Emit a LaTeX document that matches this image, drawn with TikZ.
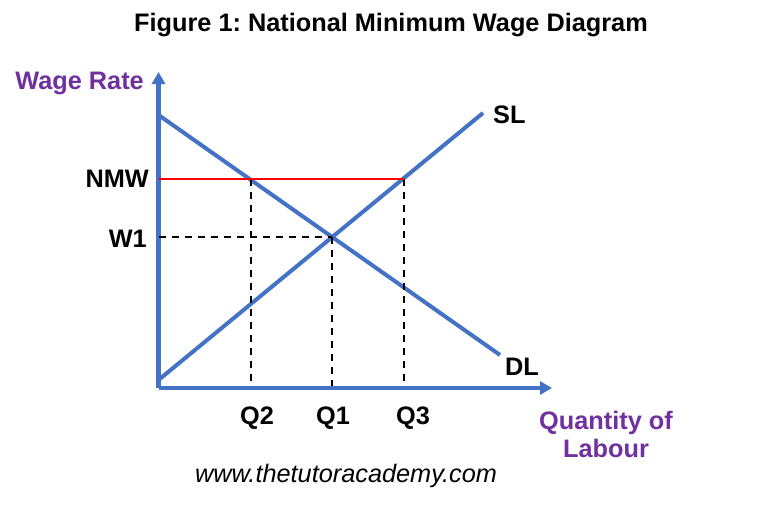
\documentclass[tikz,border=0pt]{standalone}
\usepackage{fontspec}
\setmainfont{Liberation Sans}
\usetikzlibrary{arrows.meta, positioning}
\definecolor{curveblue}{RGB}{68,114,196}
\definecolor{labelpurple}{RGB}{112,48,160}
\tikzset{
    curve/.style = {draw = curveblue, line width = 4pt},
    axis/.style = {draw = curveblue, line width = 4.5pt, -{Triangle[width=13pt, length=12pt]}},
    guide/.style = {draw = black, line width = 2pt, dash pattern = on 7pt off 6pt},
    lbl/.style = {font = \fontsize{25.3}{28}\selectfont\bfseries, inner sep = 0pt},
    axislbl/.style = {lbl, text = labelpurple, align = center}
}

\begin{document}
\frenchspacing
\begin{tikzpicture}[x = 1pt, y = -1pt]
            \useasboundingbox[fill = white] (0,0) rectangle (768,506);
            \node[lbl, anchor = base] (title) at (391,31) {Figure 1: National Minimum Wage Diagram};

            % axes
            \coordinate (O) at (158.5,388);
            \coordinate (ytop) at (158.5,72);
            \coordinate (xend) at (552,388);
            \draw[axis] (O) -- (ytop);
            \draw[axis] (O) -- (xend);

            % demand and supply of labour
            \coordinate (dl0) at (158.5,115);
            \coordinate (dl1) at (500,355);
            \coordinate (sl0) at (158.5,380);
            \coordinate (sl1) at (483,113);
            \draw[curve] (dl0) -- (dl1);
            \draw[curve] (sl0) -- (sl1);

            % equilibrium and minimum wage
            \coordinate (nmw) at (158.5,179);
            \coordinate (w1) at (158.5,237);
            \coordinate (eq) at (332,237);
            \coordinate (q2top) at (251,179);
            \coordinate (q3top) at (404,179);
            \coordinate (q2) at (251,386);
            \coordinate (q1) at (332,386);
            \coordinate (q3) at (404,386);
            \draw[guide] (w1) -- (eq);
            \draw[guide] (q2top) -- (q2);
            \draw[guide] (eq) -- (q1);
            \draw[guide] (q3top) -- (q3);
            \draw[red, line width = 2.6pt] (nmw) -- (q3top);

            % labels
            \node[lbl, anchor = base east] (nmwlbl) at (149,187) {NMW};
            \node[lbl, anchor = base east] (w1lbl) at (147,247) {W1};
            \node[lbl, anchor = base] (q2lbl) at (257,424) {Q2};
            \node[lbl, anchor = base] (q1lbl) at (333,424) {Q1};
            \node[lbl, anchor = base] (q3lbl) at (413,424) {Q3};
            \node[lbl, anchor = base west] (sllbl) at (493,123) {SL};
            \node[lbl, anchor = base west] (dllbl) at (505,375) {DL};
            \node[axislbl, anchor = base east] (ylbl) at (144,89) {Wage Rate};
            \node[axislbl, anchor = base] (xlbl) at (606,457) {Quantity of\\Labour};
            \node[font = \fontsize{25.3}{28}\selectfont\itshape, inner sep = 0pt, anchor = base] (web) at (346,482) {www.thetutoracademy.com};
        \end{tikzpicture}
\end{document}
